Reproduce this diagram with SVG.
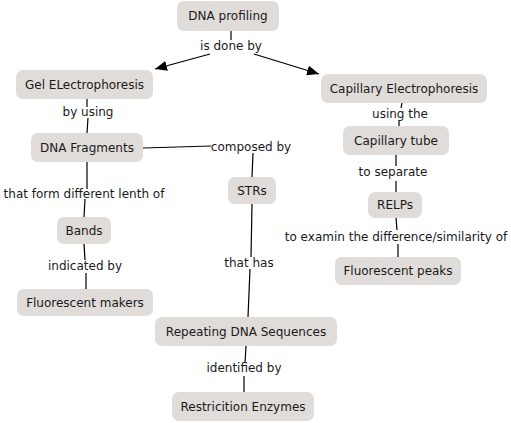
<svg xmlns="http://www.w3.org/2000/svg" width="511" height="423" viewBox="0 0 511 423">
<defs>
<style>
.n rect{fill:#e0dcd9;stroke:none}
text{font-family:"DejaVu Sans",Verdana,sans-serif;font-size:12px;fill:#1a1a1a;text-anchor:middle;dominant-baseline:central}
.c line{stroke:#000;stroke-width:1.2;fill:none}
</style>
<marker id="ah" viewBox="0 0 12 10" refX="12" refY="5" markerWidth="12" markerHeight="10" markerUnits="userSpaceOnUse" orient="auto">
<path d="M0,0 L12,5 L0,10 z" fill="#000"/>
</marker>
</defs>
<rect width="511" height="423" fill="#fff"/>
<g class="c" id="connectors">
<line x1="231" y1="31" x2="231" y2="40"/>
<line x1="210" y1="54" x2="155" y2="69" marker-end="url(#ah)"/>
<line x1="254" y1="54" x2="319" y2="74" marker-end="url(#ah)"/>
<line x1="87" y1="99" x2="87" y2="107"/>
<line x1="88" y1="118" x2="87" y2="133"/>
<line x1="143" y1="148" x2="211" y2="146"/>
<line x1="253" y1="153" x2="252" y2="177"/>
<line x1="252" y1="204" x2="251" y2="257"/>
<line x1="250" y1="269" x2="248" y2="317"/>
<line x1="87" y1="162" x2="87" y2="189"/>
<line x1="85" y1="199" x2="84" y2="217"/>
<line x1="84" y1="244" x2="85" y2="260"/>
<line x1="86" y1="273" x2="86" y2="289"/>
<line x1="246" y1="346" x2="245" y2="363"/>
<line x1="244" y1="376" x2="244" y2="392"/>
<line x1="402" y1="103" x2="401" y2="108"/>
<line x1="399" y1="121" x2="399" y2="126"/>
<line x1="396" y1="155" x2="396" y2="166"/>
<line x1="396" y1="181" x2="396" y2="192"/>
<line x1="396" y1="218" x2="397" y2="230"/>
<line x1="398" y1="244" x2="398" y2="257"/>
</g>
<g id="labels">
<text x="231" y="46">is done by</text>
<text x="88" y="112">by using</text>
<text x="251" y="147">composed by</text>
<text x="400" y="114">using the</text>
<text x="393" y="172">to separate</text>
<text x="84" y="194">that form different lenth of</text>
<text x="85" y="266">indicated by</text>
<text x="249" y="263">that has</text>
<text x="244" y="368">identified by</text>
<text x="396" y="237">to examin the difference/similarity of</text>
</g>
<g class="n" id="n-dna-profiling"><rect x="177" y="1" width="102" height="30" rx="7"/><text x="228" y="16">DNA profiling</text></g>
<g class="n" id="n-gel"><rect x="16" y="70" width="137" height="29" rx="7"/><text x="84.5" y="84.5">Gel ELectrophoresis</text></g>
<g class="n" id="n-capillary-electro"><rect x="321" y="74" width="166" height="29" rx="7"/><text x="404" y="88.5">Capillary Electrophoresis</text></g>
<g class="n" id="n-dna-fragments"><rect x="31" y="133" width="112" height="29" rx="7"/><text x="87" y="147.5">DNA Fragments</text></g>
<g class="n" id="n-capillary-tube"><rect x="343" y="126" width="106" height="29" rx="7"/><text x="396" y="140.5">Capillary tube</text></g>
<g class="n" id="n-strs"><rect x="228" y="177" width="48" height="27" rx="7"/><text x="252" y="190.5">STRs</text></g>
<g class="n" id="n-relps"><rect x="368" y="192" width="54" height="26" rx="7"/><text x="395" y="205">RELPs</text></g>
<g class="n" id="n-bands"><rect x="57" y="217" width="54" height="27" rx="7"/><text x="84" y="230.5">Bands</text></g>
<g class="n" id="n-fluor-peaks"><rect x="335" y="257" width="126" height="28" rx="7"/><text x="398" y="271">Fluorescent peaks</text></g>
<g class="n" id="n-fluor-makers"><rect x="17" y="289" width="136" height="27" rx="7"/><text x="85" y="302.5">Fluorescent makers</text></g>
<g class="n" id="n-repeating"><rect x="155" y="317" width="182" height="29" rx="7"/><text x="246" y="331.5">Repeating DNA Sequences</text></g>
<g class="n" id="n-restriction"><rect x="172" y="392" width="142" height="29" rx="7"/><text x="243" y="406.5">Restricition Enzymes</text></g>
</svg>
